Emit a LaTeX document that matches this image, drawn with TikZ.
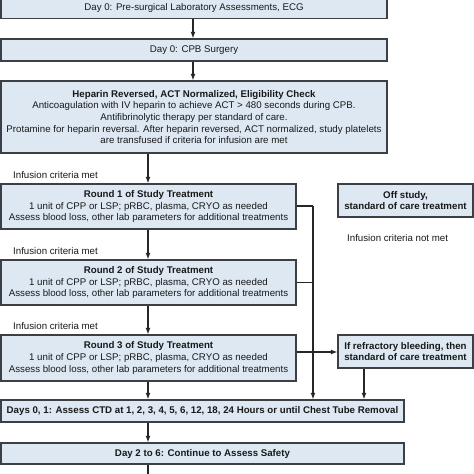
\documentclass[tikz,border=0pt]{standalone}
\usepackage{fontspec}
\setmainfont{Liberation Sans}
\usetikzlibrary{arrows.meta}
\definecolor{boxfill}{RGB}{221,232,242}
\definecolor{boxedge}{RGB}{60,64,68}
\definecolor{txt}{RGB}{25,25,25}
\begin{document}
\begin{tikzpicture}[x=1pt,y=-1pt,
  box/.style={draw=boxedge,fill=boxfill,line width=1.4pt,inner sep=0pt,align=center,
    font=\fontsize{9.7}{11.6}\selectfont,text=txt},
  conn/.style={line width=1.1pt,draw=black!85},
  arr/.style={conn,-{Latex[length=6.5pt,width=5pt]}},
  lbl/.style={font=\fontsize{9.7}{11}\selectfont,text=txt,anchor=west,inner sep=0pt}]
\useasboundingbox (0,0) rectangle (474,474);
\node[box,minimum width=386pt,minimum height=22pt] (b1) at (194,7.5) {Day 0: Pre-surgical Laboratory Assessments, ECG};
\node[box,minimum width=386pt,minimum height=22pt] (b2) at (194,50) {Day 0: CPB Surgery};
\node[box,minimum width=386pt,minimum height=72pt] (b3) at (194,117) {\textbf{Heparin Reversed, ACT Normalized, Eligibility Check}\\
Anticoagulation with IV heparin to achieve ACT > 480 seconds during CPB.\\
Antifibrinolytic therapy per standard of care.\\
Protamine for heparin reversal. After heparin reversed, ACT normalized, study platelets\\
are transfused if criteria for infusion are met};
\node[box,minimum width=295pt,minimum height=45pt] (r1) at (148.5,206.5) {\textbf{Round 1 of Study Treatment}\\
1 unit of CPP or LSP; pRBC, plasma, CRYO as needed\\
Assess blood loss, other lab parameters for additional treatments};
\node[box,minimum width=295pt,minimum height=45pt] (r2) at (148.5,282.5) {\textbf{Round 2 of Study Treatment}\\
1 unit of CPP or LSP; pRBC, plasma, CRYO as needed\\
Assess blood loss, other lab parameters for additional treatments};
\node[box,minimum width=295pt,minimum height=46pt] (r3) at (148.5,358) {\textbf{Round 3 of Study Treatment}\\
1 unit of CPP or LSP; pRBC, plasma, CRYO as needed\\
Assess blood loss, other lab parameters for additional treatments};
\node[box,minimum width=135pt,minimum height=33pt] (off) at (405.5,200.5) {\textbf{Off study,}\\\textbf{standard of care treatment}};
\node[box,minimum width=135pt,minimum height=33pt] (ref) at (405.5,351.5) {\textbf{If refractory bleeding, then}\\\textbf{standard of care treatment}};
\node[box,minimum width=403pt,minimum height=22pt] (d1) at (202.5,411) {\textbf{Days 0, 1: Assess CTD at 1, 2, 3, 4, 5, 6, 12, 18, 24 Hours or until Chest Tube Removal}};
\node[box,minimum width=403pt,minimum height=21pt] (d2) at (202.5,453.5) {\textbf{Day 2 to 6: Continue to Assess Safety}};
\node[lbl] (l1) at (13,175) {Infusion criteria met};
\node[lbl] (l2) at (13,251) {Infusion criteria met};
\node[lbl] (l3) at (13,326) {Infusion criteria met};
\node[lbl] (l4) at (347,238) {Infusion criteria not met};
\coordinate (end) at (148,480);
\coordinate (j1) at (313,206);
\coordinate (j3) at (313,400);
\draw[arr] (b1.south -| 193,0) -- (b2.north -| 193,0);
\draw[arr] (b2.south -| 193,0) -- (b3.north -| 193,0);
\draw[arr] (b3.south -| 148,0) -- (r1.north -| 148,0);
\draw[arr] (r1.south -| 148,0) -- (r2.north -| 148,0);
\draw[arr] (r2.south -| 148,0) -- (r3.north -| 148,0);
\draw[arr] (r3.south -| 148,0) -- (d1.north -| 148,0);
\draw[arr] (d1.south -| 148,0) -- (d2.north -| 148,0);
\draw[conn] (d2.south -| 148,0) -- (end);
\draw[conn] (r1.east |- j1) -- (j1);
\draw[arr] (j1) -- (j3 |- d1.north);
\draw[conn] (r2.east) -- (r2.east -| j1);
\draw[arr] (r3.east |- 0,352) -- (ref.west |- 0,352);
\draw[arr] (ref.south -| 364,0) -- (d1.north -| 364,0);
\end{tikzpicture}
\end{document}
